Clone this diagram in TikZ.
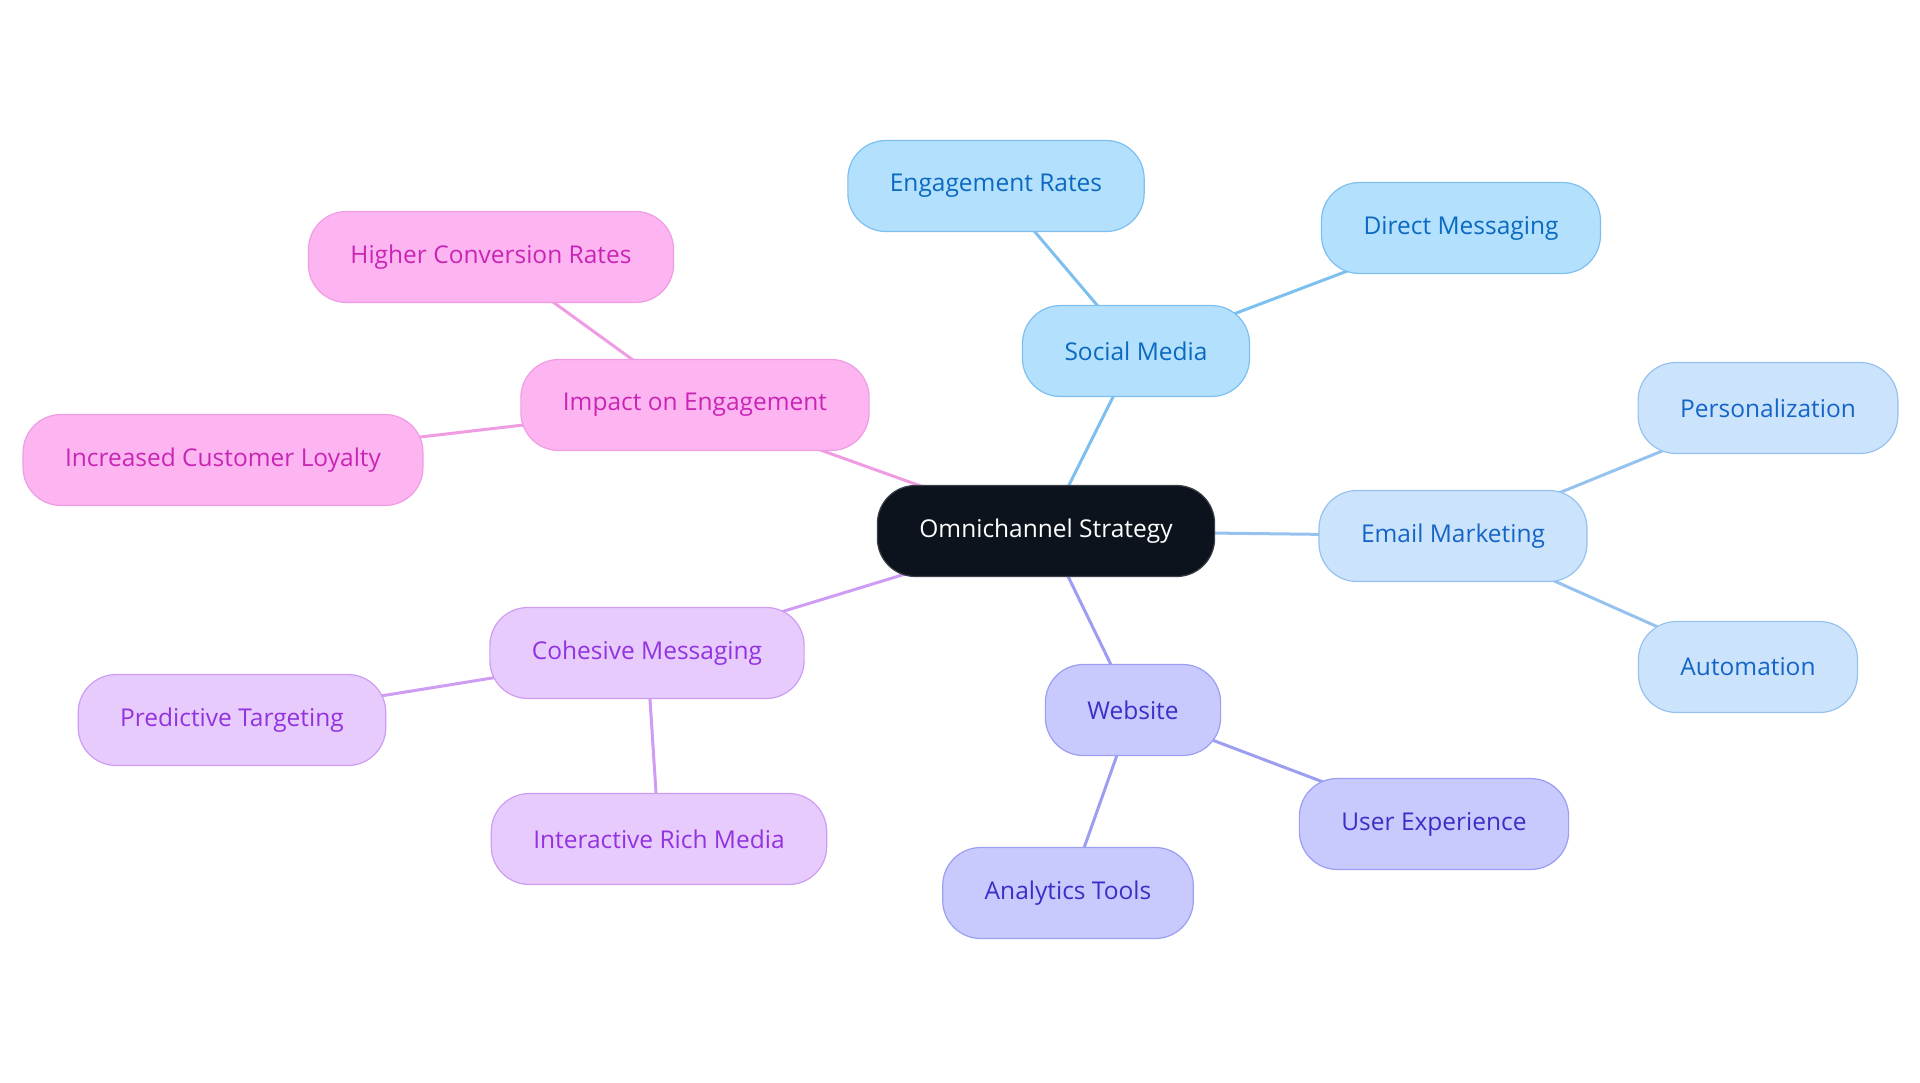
\documentclass[tikz,border=0pt]{standalone}
\usepackage{fontspec}
\setmainfont{Open Sans}
\usetikzlibrary{backgrounds}
\definecolor{rootfill}{HTML}{0D131C}
\definecolor{rootline}{HTML}{3A3F46}
\definecolor{smfill}{HTML}{B3E0FD}
\definecolor{smline}{HTML}{7DC0F0}
\definecolor{smtext}{HTML}{0B69BF}
\definecolor{emfill}{HTML}{CCE3FC}
\definecolor{emline}{HTML}{96C2EF}
\definecolor{emtext}{HTML}{1565C8}
\definecolor{wsfill}{HTML}{C8CAFD}
\definecolor{wsline}{HTML}{9C9EF1}
\definecolor{wstext}{HTML}{3A2FC6}
\definecolor{cmfill}{HTML}{E8CBFD}
\definecolor{cmline}{HTML}{CF9CF3}
\definecolor{cmtext}{HTML}{9233DF}
\definecolor{iefill}{HTML}{FDB5F2}
\definecolor{ieline}{HTML}{F09CE3}
\definecolor{ietext}{HTML}{C925B5}

\begin{document}
\begin{tikzpicture}[x=1pt,y=-1pt,
  box/.style={rectangle,rounded corners=38pt,minimum height=91pt,inner xsep=42pt,
    line width=1.2pt,font=\fontsize{24.5}{29}\selectfont},
  rootbox/.style={box,fill=rootfill,draw=rootline,text=white},
  smbox/.style={box,fill=smfill,draw=smline,text=smtext},
  embox/.style={box,fill=emfill,draw=emline,text=emtext},
  wsbox/.style={box,fill=wsfill,draw=wsline,text=wstext},
  cmbox/.style={box,fill=cmfill,draw=cmline,text=cmtext},
  iebox/.style={box,fill=iefill,draw=ieline,text=ietext}]
  \useasboundingbox (0,0) rectangle (1920,1083);
  \node[rootbox] (omni) at (1046,531) {Omnichannel Strategy};
  % branches
  \node[smbox] (social) at (1136,351) {Social Media};
  \node[smbox] (engrates) at (996,186) {Engagement Rates};
  \node[smbox] (direct) at (1461,228) {Direct Messaging};
  \node[embox] (email) at (1453,536) {Email Marketing};
  \node[embox] (person) at (1768,408) {Personalization};
  \node[embox] (auto) at (1748,667) {Automation};
  \node[wsbox] (web) at (1133,710) {Website};
  \node[wsbox] (ux) at (1434,824) {User Experience};
  \node[wsbox] (analytics) at (1068,893) {Analytics Tools};
  \node[cmbox] (cohesive) at (647,653) {Cohesive Messaging};
  \node[cmbox] (predict) at (232,720) {Predictive Targeting};
  \node[cmbox] (rich) at (659,839) {Interactive Rich Media};
  \node[iebox] (impact) at (695,405) {Impact on Engagement};
  \node[iebox] (conv) at (491,257) {Higher Conversion Rates};
  \node[iebox] (loyal) at (223,460) {Increased Customer Loyalty};
  % connectors, behind the boxes
  \begin{pgfonlayer}{background}
    \foreach \a/\b/\c in {omni/social/smline,social/engrates/smline,social/direct/smline,
        omni/email/emline,email/person/emline,email/auto/emline,
        omni/web/wsline,web/ux/wsline,web/analytics/wsline,
        omni/cohesive/cmline,cohesive/predict/cmline,cohesive/rich/cmline,
        omni/impact/ieline,impact/conv/ieline,impact/loyal/ieline}
      \draw[\c,line width=3pt] (\a.center) -- (\b.center);
  \end{pgfonlayer}
\end{tikzpicture}
\end{document}
